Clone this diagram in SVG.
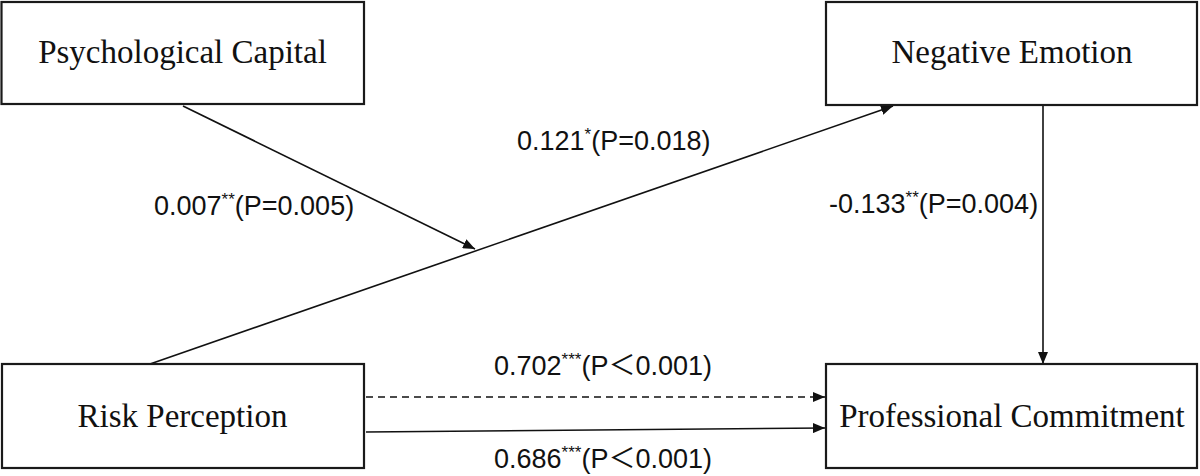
<svg xmlns="http://www.w3.org/2000/svg" width="1200" height="476" viewBox="0 0 1200 476">
<defs>
<style>
.box{fill:#fff;stroke:#1a1a1a;stroke-width:2.2}
.node{font-family:"Liberation Serif","Times New Roman",serif;font-size:33px;fill:#111;text-anchor:middle}
.lab{font-family:"Liberation Sans","Noto Sans CJK SC",sans-serif;font-size:27px;fill:#111}
.sup{font-size:17px}
.ln{stroke:#111;stroke-width:1.6;fill:none}
.dash{stroke-dasharray:7 5}
</style>
<marker id="arr" viewBox="0 0 12 10" refX="12" refY="5" markerWidth="12" markerHeight="10" markerUnits="userSpaceOnUse" orient="auto">
<path d="M0,0 L12,5 L0,10 Z" fill="#111"/>
</marker>
</defs>
<rect width="1200" height="476" fill="#fff"/>
<g id="connectors">
<line class="ln" x1="183" y1="106" x2="475" y2="249" marker-end="url(#arr)"/>
<line class="ln" x1="150" y1="364" x2="893" y2="106" marker-end="url(#arr)"/>
<line class="ln" x1="1043" y1="105" x2="1043" y2="364" marker-end="url(#arr)"/>
<line class="ln dash" x1="366" y1="397" x2="825" y2="397" marker-end="url(#arr)"/>
<line class="ln" x1="366" y1="432" x2="825" y2="428" marker-end="url(#arr)"/>
<text class="lab" x="154" y="215">0.007<tspan class="sup" dy="-10">**</tspan><tspan dy="10">(P=0.005)</tspan></text>
<text class="lab" x="517" y="150">0.121<tspan class="sup" dy="-10">*</tspan><tspan dy="10">(P=0.018)</tspan></text>
<text class="lab" x="829" y="213">-0.133<tspan class="sup" dy="-10">**</tspan><tspan dy="10">(P=0.004)</tspan></text>
<text class="lab" x="494" y="375">0.702<tspan class="sup" dy="-10">***</tspan><tspan dy="10">(P＜0.001)</tspan></text>
<text class="lab" x="494" y="468">0.686<tspan class="sup" dy="-10">***</tspan><tspan dy="10">(P＜0.001)</tspan></text>
</g>
<g id="psychological-capital">
<rect class="box" x="1.5" y="2" width="362.5" height="102"/>
<text class="node" x="182.5" y="63">Psychological Capital</text>
</g>
<g id="negative-emotion">
<rect class="box" x="826" y="2" width="371" height="103"/>
<text class="node" x="1012" y="63">Negative Emotion</text>
</g>
<g id="risk-perception">
<rect class="box" x="2" y="364" width="362" height="104"/>
<text class="node" x="182.5" y="427">Risk Perception</text>
</g>
<g id="professional-commitment">
<rect class="box" x="826" y="364" width="371" height="104"/>
<text class="node" x="1012" y="427">Professional Commitment</text>
</g>
</svg>
